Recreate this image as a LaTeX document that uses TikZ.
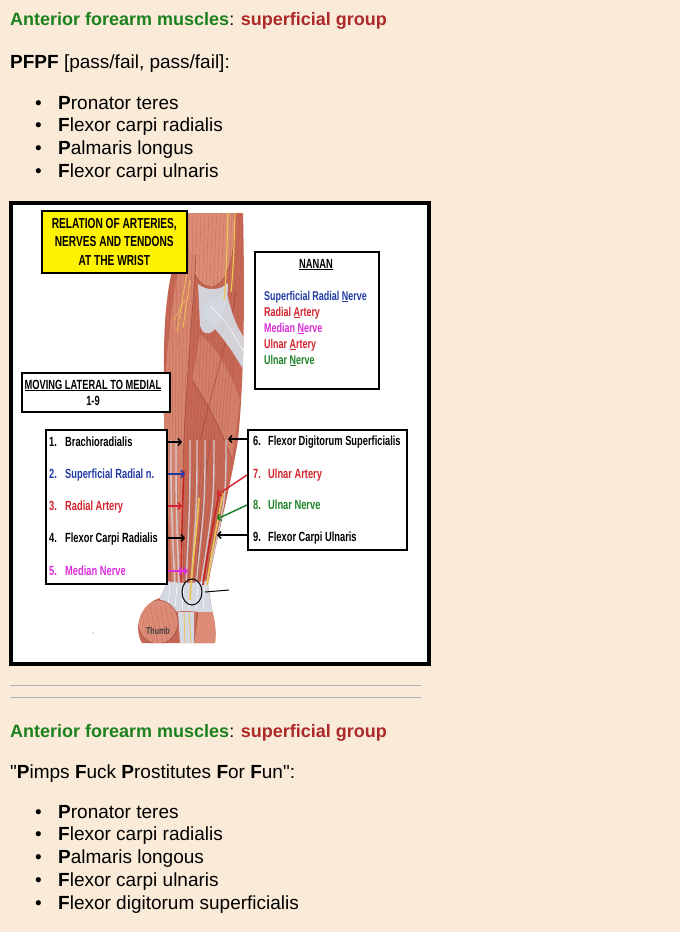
\documentclass[tikz,border=0pt]{standalone}
\usepackage{fontspec}
\setmainfont{Liberation Sans}
\newfontfamily\narrowfont[FakeStretch=0.70]{Liberation Sans}
\newfontfamily\quotefont{Liberation Sans}
\usetikzlibrary{arrows.meta,positioning,calc}

\definecolor{pagebg}{RGB}{250,235,216}
\definecolor{headgreen}{RGB}{28,128,30}
\definecolor{headred}{RGB}{172,42,42}
\definecolor{sepgrey}{RGB}{172,176,186}
\definecolor{lblblue}{RGB}{35,60,165}
\definecolor{lblred}{RGB}{210,35,45}
\definecolor{lblmag}{RGB}{220,45,220}
\definecolor{lblgreen}{RGB}{30,130,40}
\definecolor{muscle}{RGB}{198,104,84}
\definecolor{musclelight}{RGB}{220,140,118}
\definecolor{muscledark}{RGB}{150,62,52}
\definecolor{tendon}{RGB}{212,216,224}
\definecolor{nerve}{RGB}{236,196,86}
\definecolor{artery}{RGB}{196,38,38}

\def\armpath{(180,213) -- (243,213) .. controls (245,300) and (244,380) .. (238,440)
  .. controls (228,500) and (214,550) .. (208,585) -- (212,610)
  .. controls (216,625) and (216,635) .. (215,643) -- (142,643)
  .. controls (134,630) and (138,605) .. (160,598) -- (166,585)
  .. controls (166,500) and (163,420) .. (164,350)
  .. controls (165,300) and (170,270) .. (180,245) -- cycle}
\newcommand{\strq}{{\quotefont"}}

\begin{document}
\begin{tikzpicture}[x=1pt,y=-1pt,
  headtxt/.style={anchor=base west,inner sep=0pt,font=\fontsize{18}{22}\selectfont\bfseries},
  bodytxt/.style={anchor=base west,inner sep=0pt,font=\fontsize{19}{22}\selectfont},
  lbl/.style={anchor=base west,inner sep=0pt,font=\narrowfont\bfseries\fontsize{13.3}{15}\selectfont},
  labelbox/.style={draw,line width=1.6pt,fill=white,inner sep=0pt,anchor=north west},
  ptr/.style={line width=1.5pt,-{Straight Barb[length=3pt,width=7pt]}},
  fibre/.style={muscledark,line width=0.4pt,opacity=0.35},
  edge/.style={muscledark,line width=0.6pt,opacity=0.7},
]
\useasboundingbox (0,0) rectangle (680,932);
\fill[pagebg] (0,0) rectangle (680,932);

% first mnemonic
\node[headtxt] (head1) at (10,25) {\textcolor{headgreen}{Anterior forearm muscles}{\mdseries:} \textcolor{headred}{superficial group}};
\node[bodytxt] (mnem1) at (10,68) {\textbf{PFPF} [pass/fail, pass/fail]:};
\foreach \txt [count=\i] in {{\textbf{P}ronator teres},{\textbf{F}lexor carpi radialis},
    {\textbf{P}almaris longus},{\textbf{F}lexor carpi ulnaris}} {
  \node[bodytxt] (dot\i) at (35,109+22.7*\i-22.7) {\textbullet};
  \node[bodytxt] (item\i) at (58,109+22.7*\i-22.7) {\txt};
}

% the wrist picture
\draw[line width=4pt,fill=white] (11,203) rectangle (429,664);

\fill[muscle] \armpath;
\begin{scope}
  \clip \armpath;
  % muscle bellies
  \fill[musclelight] (186,213) -- (234,213) .. controls (236,250) and (230,283) .. (212,287)
    .. controls (194,287) and (186,260) .. (186,213) -- cycle;
  \draw[edge] (186,213) .. controls (186,260) and (194,287) .. (212,287)
    .. controls (230,283) and (236,250) .. (234,213);
  \fill[musclelight!80!muscle] (182,250) .. controls (172,300) and (164,360) .. (164,430)
    .. controls (166,480) and (170,540) .. (172,585) -- (184,585)
    .. controls (182,520) and (182,460) .. (186,400)
    .. controls (190,340) and (194,290) .. (196,255) -- cycle;
  \draw[edge] (196,255) .. controls (194,290) and (190,340) .. (186,400)
    .. controls (182,460) and (182,520) .. (184,585);
  \fill[musclelight!60!muscle] (200,335) .. controls (215,345) and (230,370) .. (240,400)
    -- (232,460) .. controls (222,430) and (205,400) .. (192,380) -- cycle;
  \draw[edge] (192,380) .. controls (205,400) and (222,430) .. (232,460);
  \draw[edge] (236,292) .. controls (230,330) and (215,380) .. (200,440);
  \draw[edge] (210,440) .. controls (206,480) and (200,520) .. (196,585);
  \foreach \k in {0,...,21}
    \draw[fibre] (162+\k*3.9,213) .. controls (162+\k*3.4,380) .. (166+\k*2.1,585);
  % aponeurosis
  \fill[tendon,opacity=0.95] (198,284) .. controls (206,291) and (220,291) .. (228,283)
    .. controls (228,300) and (224,316) .. (214,330) .. controls (208,336) and (202,334) .. (200,325) -- cycle;
  \fill[tendon,opacity=0.95] (204,302) .. controls (212,300) and (220,296) .. (226,290)
    .. controls (232,316) and (238,330) .. (246,340)
    -- (246,375) .. controls (234,352) and (218,330) .. (204,318) -- cycle;
  \draw[white,line width=0.6pt,opacity=0.8] (210,306) .. controls (225,320) .. (244,352);
  % tendons at the wrist
  \foreach \xa/\xb in {171/175,176/179,190/186,197/191,205/196,214/201,226/206}
    \draw[tendon,line width=1.4pt,opacity=0.85] (\xa,440) .. controls (\xa,500) .. (\xb,585);
  \fill[tendon] (160,580) .. controls (185,584) .. (212,580) -- (214,614)
    .. controls (185,610) .. (160,614) -- cycle;
  \foreach \k in {0,...,5}
    \draw[white,line width=0.5pt] (170+\k*7,584) -- (168+\k*7,610);
  % thumb and hand
  \fill[musclelight] (158,622) ellipse [x radius=20,y radius=22];
  \draw[edge] (158,622) ellipse [x radius=20,y radius=22];
  \foreach \k in {0,...,7}
    \draw[fibre] (140+\k*5,606) -- (148+\k*5,643);
  \fill[musclelight] (198,612) -- (216,612) -- (216,643) -- (194,643) -- cycle;
  \draw[edge] (198,612) -- (194,643);
  \fill[tendon] (178,612) -- (194,612) -- (194,643) -- (180,643) -- cycle;
  \draw[nerve,line width=0.8pt] (184,612) -- (185,643);
  \draw[nerve,line width=0.8pt] (189,612) -- (191,643);
\end{scope}

% nerves and arteries
\draw[nerve,line width=1.2pt] (228,213) .. controls (227,250) and (226,280) .. (224,300);
\draw[nerve,line width=1.2pt] (235,213) .. controls (234,250) and (233,275) .. (231,292);
\draw[nerve,line width=0.8pt] (187,272) -- (177,332);
\draw[nerve,line width=0.8pt] (190,280) -- (183,328);
\draw[nerve,line width=0.6pt] (185,300) -- (174,320);
\draw[artery,line width=1.4pt] (184,470) .. controls (182,520) .. (181,582);
\draw[nerve,line width=1.6pt] (199,498) .. controls (196,540) and (192,565) .. (190,600);
\draw[artery,line width=1.6pt] (219,494) .. controls (212,530) and (207,555) .. (203,585);
\draw[nerve,line width=1.6pt] (223,494) .. controls (216,530) and (211,555) .. (207,585);

% carpal tunnel mark
\coordinate (tunnel) at (192,592);
\coordinate (tunnelend) at (229,590);
\draw[line width=1pt] (tunnel) ellipse [x radius=10,y radius=13];
\draw[line width=1pt] ($(tunnel)+(13,0)$) -- (tunnelend);
\node[lbl,font=\narrowfont\bfseries\fontsize{10}{10}\selectfont,text=black!75] (thumb) at (146,634) {Thumb};
\fill[black!50] (93,633) circle (0.7);

% label boxes
\node[labelbox,fill=yellow,minimum width=145pt,minimum height=62pt,align=center,
  font=\narrowfont\bfseries\fontsize{14.5}{18.5}\selectfont] (title) at (41,210)
  {RELATION OF ARTERIES,\\NERVES AND TENDONS\\AT THE WRIST};

\node[labelbox,minimum width=124pt,minimum height=137pt] (nanan) at (254,251) {};
\node[lbl,anchor=base] (nanantitle) at (316,268) {\underline{NANAN}};
\foreach \txt/\col [count=\i] in {Superficial Radial \underline{N}erve/lblblue,
    Radial \underline{A}rtery/lblred,Median \underline{N}erve/lblmag,
    Ulnar \underline{A}rtery/lblred,Ulnar \underline{N}erve/lblgreen}
  \node[lbl,text=\col,font=\narrowfont\bfseries\fontsize{12.8}{13}\selectfont] (nn\i) at (264,300+16*\i-16) {\txt};

\node[labelbox,minimum width=148pt,minimum height=39pt] (moving) at (21,372) {};
\node[lbl,anchor=base] (movingtitle) at (93,389) {\underline{MOVING LATERAL TO MEDIAL}};
\node[lbl,anchor=base] (movingnum) at (93,405) {1-9};

\node[labelbox,minimum width=121pt,minimum height=154pt] (lbox) at (45,429) {};
\foreach \n/\txt/\col/\ya/\xe in {1/Brachioradialis/black/446/182,
    2/Superficial Radial n./lblblue/478/185,3/Radial Artery/lblred/510/182,
    4/Flexor Carpi Radialis/black/542/185,5/Median Nerve/lblmag/575/188} {
  \node[lbl,text=\col] (ln\n) at (49,\ya) {\n.};
  \node[lbl,text=\col] (lt\n) at (65,\ya) {\txt};
  \coordinate (a\n) at (\xe,\ya-4);
}
\foreach \n/\col in {1/black,2/lblblue,3/lblred,4/black}
  \draw[ptr,\col] (lbox.east |- a\n) -- (a\n);
\draw[lblmag,line width=1.5pt,-{Straight Barb[length=3pt,width=7pt] Straight Barb[length=3pt,width=7pt]}]
  (lbox.east |- a5) -- (a5);

\node[labelbox,minimum width=159pt,minimum height=120pt] (rbox) at (247,429) {};
\foreach \n/\txt/\col/\ya/\xe/\ye in {6/Flexor Digitorum Superficialis/black/445/228/439,
    7/Ulnar Artery/lblred/478/217/495,8/Ulnar Nerve/lblgreen/509/217/519,
    9/Flexor Carpi Ulnaris/black/541/217/535} {
  \node[lbl,text=\col] (rn\n) at (253,\ya) {\n.};
  \node[lbl,text=\col] (rt\n) at (268,\ya) {\txt};
  \coordinate (a\n) at (\xe,\ye);
}
\draw[ptr,black] (rbox.west |- a6) -- (a6);
\draw[ptr,lblred] ($(rbox.west |- a7)+(0,-20)$) -- (a7);
\draw[ptr,lblgreen] ($(rbox.west |- a8)+(0,-14)$) -- (a8);
\draw[ptr,black] (rbox.west |- a9) -- (a9);

% separator
\draw[sepgrey,line width=1pt] (10,685) -- (421,685);
\draw[sepgrey,line width=1pt] (10,697) -- (421,697);

% second mnemonic
\node[headtxt] (head2) at (10,737) {\textcolor{headgreen}{Anterior forearm muscles}{\mdseries:} \textcolor{headred}{superficial group}};
\node[bodytxt] (mnem2) at (10,778) {\strq\textbf{P}imps \textbf{F}uck \textbf{P}rostitutes \textbf{F}or \textbf{F}un\strq:};
\foreach \txt [count=\i] in {{\textbf{P}ronator teres},{\textbf{F}lexor carpi radialis},
    {\textbf{P}almaris longous},{\textbf{F}lexor carpi ulnaris},{\textbf{F}lexor digitorum superficialis}} {
  \node[bodytxt] (dotb\i) at (35,818+22.75*\i-22.75) {\textbullet};
  \node[bodytxt] (itemb\i) at (58,818+22.75*\i-22.75) {\txt};
}
\end{tikzpicture}
\end{document}
